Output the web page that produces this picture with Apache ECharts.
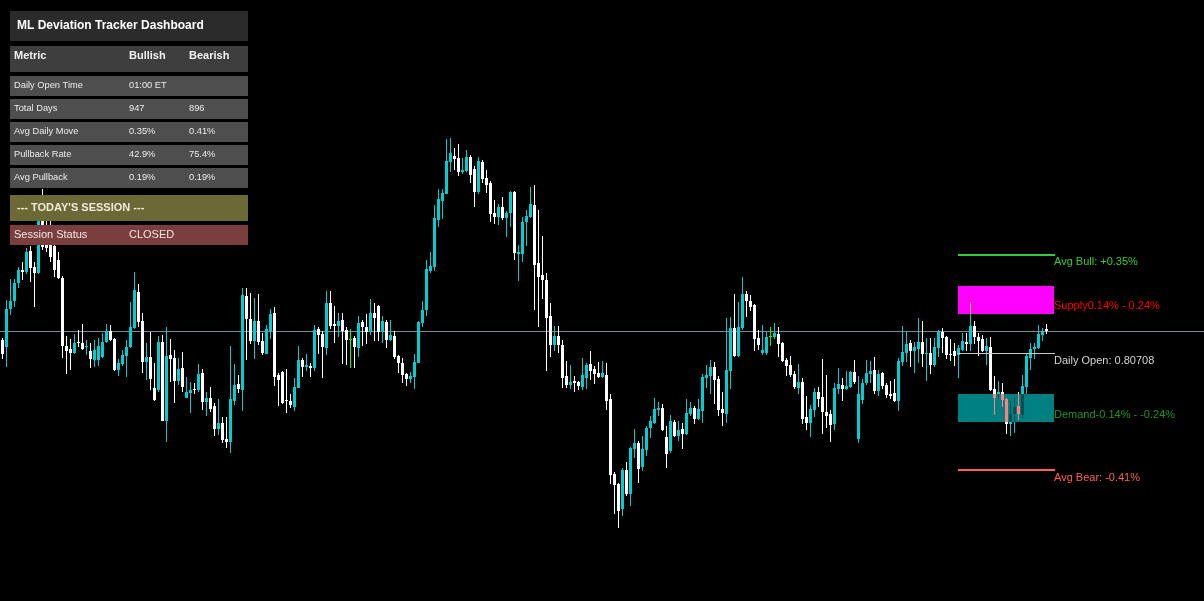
<!DOCTYPE html>
<html><head><meta charset="utf-8">
<script src="https://cdn.jsdelivr.net/npm/echarts@6/dist/echarts.min.js"></script>
<style>html,body{margin:0;padding:0;background:#000;}#c{width:1204px;height:601px;}</style>
</head><body><div id="c"></div>
<script>
// ---- candle values (price) ----
const opens = [
0.80748,0.80728,0.80836,0.80859,0.80910,0.80948,0.80942,0.81002,0.80956,0.80939,
0.81148,0.81067,0.81048,0.81016,0.80976,0.80925,0.80731,0.80722,0.80710,0.80742,
0.80739,0.80728,0.80716,0.80690,0.80690,0.80699,0.80742,0.80773,0.80750,0.80662,
0.80679,0.80702,0.80728,0.80782,0.80884,0.80802,0.80684,0.80699,0.80610,0.80605,
0.80742,0.80516,0.80705,0.80696,0.80630,0.80667,0.80582,0.80596,0.80607,0.80605,
0.80653,0.80570,0.80582,0.80559,0.80493,0.80510,0.80465,0.80456,0.80573,0.80622,
0.80605,0.80873,0.80808,0.80745,0.80802,0.80745,0.80708,0.80773,0.80824,0.80648,
0.80656,0.80576,0.80573,0.80556,0.80610,0.80690,0.80670,0.80673,0.80667,0.80779,
0.80765,0.80725,0.80853,0.80794,0.80788,0.80805,0.80776,0.80750,0.80753,0.80725,
0.80799,0.80785,0.80770,0.80824,0.80845,0.80770,0.80799,0.80748,0.80759,0.80702,
0.80681,0.80651,0.80636,0.80642,0.80681,0.80796,0.80833,0.80945,0.80956,0.81090,
0.81145,0.81165,0.81256,0.81273,0.81267,0.81227,0.81230,0.81270,0.81236,0.81170,
0.81256,0.81210,0.81196,0.81110,0.81099,0.81128,0.81096,0.81110,0.81170,0.80993,
0.80993,0.81085,0.81099,0.81134,0.80967,0.80934,0.80919,0.80816,0.80733,0.80759,
0.80733,0.80645,0.80619,0.80630,0.80627,0.80613,0.80639,0.80679,0.80664,0.80653,
0.80642,0.80648,0.80579,0.80365,0.80336,0.80265,0.80376,0.80308,0.80436,0.80453,
0.80385,0.80433,0.80496,0.80510,0.80548,0.80553,0.80470,0.80430,0.80513,0.80473,
0.80493,0.80479,0.80536,0.80553,0.80522,0.80545,0.80639,0.80645,0.80670,0.80636,
0.80550,0.80536,0.80659,0.80782,0.80702,0.80782,0.80879,0.80859,0.80848,0.80753,
0.80710,0.80710,0.80759,0.80756,0.80765,0.80739,0.80690,0.80676,0.80651,0.80610,
0.80627,0.80528,0.80510,0.80548,0.80599,0.80585,0.80542,0.80536,0.80508,0.80607,
0.80619,0.80607,0.80613,0.80656,0.80465,0.80576,0.80624,0.80651,0.80662,0.80602,
0.80653,0.80619,0.80594,0.80596,0.80573,0.80684,0.80710,0.80739,0.80716,0.80722,
0.80742,0.80708,0.80710,0.80676,0.80725,0.80770,0.80756,0.80708,0.80716,0.80705,
0.80719,0.80742,0.80736,0.80788,0.80756,0.80750,0.80716,0.80728,0.80607,0.80594,
0.80599,0.80579,0.80508,0.80536,0.80559,0.80533,0.80613,0.80696,0.80722,0.80725,
0.80762,0.80779];
const closes = [
0.80708,0.80836,0.80859,0.80910,0.80948,0.80942,0.80999,0.80953,0.80939,0.81105,
0.81013,0.81010,0.80985,0.80948,0.80925,0.80731,0.80716,0.80710,0.80739,0.80739,
0.80722,0.80731,0.80693,0.80719,0.80731,0.80742,0.80773,0.80748,0.80662,0.80681,
0.80705,0.80728,0.80785,0.80890,0.80799,0.80684,0.80699,0.80636,0.80576,0.80742,
0.80516,0.80702,0.80693,0.80630,0.80664,0.80613,0.80599,0.80605,0.80605,0.80651,
0.80570,0.80582,0.80550,0.80493,0.80510,0.80462,0.80456,0.80579,0.80619,0.80607,
0.80876,0.80808,0.80745,0.80802,0.80742,0.80710,0.80779,0.80822,0.80642,0.80633,
0.80567,0.80573,0.80562,0.80613,0.80690,0.80670,0.80676,0.80667,0.80776,0.80762,
0.80728,0.80853,0.80788,0.80788,0.80802,0.80773,0.80748,0.80750,0.80728,0.80796,
0.80785,0.80770,0.80824,0.80810,0.80770,0.80802,0.80748,0.80762,0.80699,0.80681,
0.80648,0.80636,0.80645,0.80684,0.80799,0.80833,0.80951,0.80959,0.81096,0.81150,
0.81167,0.81259,0.81281,0.81264,0.81227,0.81233,0.81270,0.81219,0.81170,0.81259,
0.81207,0.81190,0.81108,0.81099,0.81128,0.81096,0.81110,0.81170,0.80996,0.80999,
0.81085,0.81102,0.81137,0.80962,0.80928,0.80919,0.80810,0.80733,0.80759,0.80733,
0.80639,0.80619,0.80627,0.80624,0.80616,0.80648,0.80676,0.80659,0.80651,0.80642,
0.80653,0.80573,0.80362,0.80334,0.80259,0.80376,0.80308,0.80439,0.80453,0.80379,
0.80436,0.80496,0.80516,0.80550,0.80553,0.80490,0.80422,0.80516,0.80473,0.80490,
0.80479,0.80539,0.80553,0.80522,0.80550,0.80642,0.80648,0.80670,0.80633,0.80548,
0.80539,0.80662,0.80782,0.80702,0.80785,0.80879,0.80859,0.80842,0.80750,0.80733,
0.80719,0.80756,0.80759,0.80767,0.80736,0.80687,0.80673,0.80648,0.80613,0.80627,
0.80522,0.80510,0.80550,0.80599,0.80579,0.80542,0.80531,0.80505,0.80610,0.80622,
0.80607,0.80616,0.80656,0.80627,0.80594,0.80624,0.80653,0.80659,0.80602,0.80651,
0.80616,0.80591,0.80588,0.80573,0.80687,0.80713,0.80736,0.80716,0.80728,0.80742,
0.80708,0.80710,0.80676,0.80728,0.80773,0.80753,0.80705,0.80705,0.80702,0.80725,
0.80745,0.80736,0.80788,0.80756,0.80745,0.80716,0.80731,0.80605,0.80582,0.80599,
0.80576,0.80508,0.80536,0.80556,0.80536,0.80616,0.80702,0.80722,0.80728,0.80765,
0.80773,0.80773];
const lows = [
0.80693,0.80670,0.80819,0.80842,0.80896,0.80919,0.80937,0.80913,0.80842,0.80937,
0.81005,0.80999,0.80970,0.80928,0.80922,0.80696,0.80651,0.80662,0.80708,0.80728,
0.80719,0.80705,0.80667,0.80670,0.80673,0.80696,0.80739,0.80745,0.80659,0.80645,
0.80673,0.80642,0.80725,0.80779,0.80785,0.80653,0.80633,0.80605,0.80573,0.80599,
0.80516,0.80456,0.80627,0.80567,0.80619,0.80599,0.80582,0.80539,0.80594,0.80599,
0.80548,0.80531,0.80542,0.80473,0.80476,0.80453,0.80439,0.80425,0.80562,0.80596,
0.80545,0.80690,0.80736,0.80693,0.80733,0.80705,0.80708,0.80750,0.80616,0.80559,
0.80565,0.80539,0.80553,0.80545,0.80610,0.80642,0.80659,0.80642,0.80659,0.80708,
0.80639,0.80705,0.80779,0.80739,0.80756,0.80679,0.80676,0.80667,0.80667,0.80699,
0.80731,0.80736,0.80762,0.80745,0.80745,0.80739,0.80725,0.80745,0.80693,0.80653,
0.80624,0.80616,0.80624,0.80607,0.80681,0.80785,0.80816,0.80939,0.80945,0.81070,
0.81093,0.81165,0.81227,0.81233,0.81216,0.81222,0.81227,0.81196,0.81128,0.81165,
0.81196,0.81167,0.81085,0.81079,0.81076,0.81090,0.81042,0.81070,0.80976,0.80916,
0.80970,0.81016,0.81096,0.80833,0.80785,0.80865,0.80659,0.80699,0.80716,0.80710,
0.80610,0.80610,0.80607,0.80599,0.80605,0.80605,0.80607,0.80633,0.80622,0.80639,
0.80639,0.80548,0.80336,0.80251,0.80211,0.80245,0.80302,0.80273,0.80410,0.80339,
0.80373,0.80416,0.80467,0.80508,0.80531,0.80487,0.80382,0.80425,0.80470,0.80459,
0.80436,0.80476,0.80531,0.80508,0.80519,0.80510,0.80610,0.80594,0.80565,0.80531,
0.80502,0.80510,0.80607,0.80699,0.80699,0.80776,0.80813,0.80830,0.80716,0.80719,
0.80705,0.80705,0.80731,0.80750,0.80699,0.80684,0.80645,0.80642,0.80607,0.80594,
0.80508,0.80490,0.80470,0.80528,0.80556,0.80479,0.80496,0.80456,0.80490,0.80594,
0.80573,0.80605,0.80610,0.80622,0.80453,0.80565,0.80619,0.80624,0.80594,0.80588,
0.80607,0.80582,0.80579,0.80570,0.80545,0.80673,0.80684,0.80670,0.80653,0.80681,
0.80670,0.80630,0.80651,0.80670,0.80699,0.80710,0.80693,0.80687,0.80673,0.80639,
0.80716,0.80716,0.80716,0.80736,0.80702,0.80713,0.80676,0.80602,0.80533,0.80579,
0.80556,0.80479,0.80473,0.80482,0.80519,0.80522,0.80591,0.80662,0.80693,0.80722,
0.80745,0.80765];
const highs = [
0.80753,0.80862,0.80922,0.80922,0.80956,0.80970,0.81010,0.81016,0.80970,0.81134,
0.81179,0.81096,0.81090,0.81033,0.80999,0.80931,0.80759,0.80750,0.80765,0.80776,
0.80794,0.80748,0.80739,0.80748,0.80753,0.80767,0.80794,0.80791,0.80753,0.80693,
0.80719,0.80748,0.80856,0.80942,0.80908,0.80824,0.80739,0.80770,0.80681,0.80759,
0.80762,0.80785,0.80750,0.80719,0.80696,0.80713,0.80642,0.80627,0.80624,0.80679,
0.80664,0.80599,0.80613,0.80567,0.80579,0.80528,0.80528,0.80731,0.80679,0.80648,
0.80896,0.80896,0.80881,0.80867,0.80879,0.80767,0.80791,0.80836,0.80842,0.80653,
0.80659,0.80664,0.80594,0.80639,0.80731,0.80696,0.80708,0.80681,0.80791,0.80785,
0.80773,0.80887,0.80887,0.80845,0.80824,0.80824,0.80785,0.80779,0.80759,0.80816,
0.80805,0.80822,0.80865,0.80853,0.80848,0.80816,0.80805,0.80805,0.80773,0.80705,
0.80696,0.80653,0.80656,0.80708,0.80802,0.80859,0.80976,0.80999,0.81134,0.81179,
0.81179,0.81322,0.81325,0.81296,0.81307,0.81267,0.81290,0.81276,0.81245,0.81270,
0.81262,0.81233,0.81202,0.81148,0.81137,0.81156,0.81116,0.81173,0.81173,0.81019,
0.81099,0.81119,0.81185,0.81190,0.81119,0.81045,0.80939,0.80853,0.80788,0.80788,
0.80748,0.80687,0.80676,0.80645,0.80630,0.80696,0.80681,0.80716,0.80673,0.80684,
0.80687,0.80681,0.80594,0.80371,0.80339,0.80382,0.80399,0.80442,0.80493,0.80459,
0.80473,0.80502,0.80531,0.80582,0.80570,0.80565,0.80502,0.80533,0.80519,0.80516,
0.80510,0.80579,0.80570,0.80559,0.80579,0.80651,0.80676,0.80690,0.80684,0.80645,
0.80599,0.80811,0.80813,0.80879,0.80856,0.80928,0.80887,0.80876,0.80851,0.80776,
0.80791,0.80770,0.80785,0.80796,0.80785,0.80742,0.80696,0.80702,0.80659,0.80679,
0.80639,0.80588,0.80562,0.80610,0.80613,0.80693,0.80648,0.80548,0.80624,0.80667,
0.80639,0.80659,0.80659,0.80690,0.80645,0.80636,0.80690,0.80687,0.80699,0.80662,
0.80656,0.80624,0.80630,0.80636,0.80696,0.80788,0.80773,0.80748,0.80742,0.80811,
0.80802,0.80753,0.80753,0.80753,0.80776,0.80782,0.80759,0.80750,0.80739,0.80733,
0.80767,0.80767,0.80856,0.80802,0.80767,0.80762,0.80753,0.80756,0.80645,0.80630,
0.80624,0.80582,0.80573,0.80585,0.80599,0.80648,0.80708,0.80739,0.80739,0.80791,
0.80782,0.80794];

// ---- session levels ----
const dailyOpen = 0.80708;
const avgBullPct = 0.35;
const avgBearPct = -0.41;
const supplyPct = [0.14, 0.24];
const demandPct = [-0.14, -0.24];
const sessionStartBar = 239;
const levelEndBar = 263;
const slotCount = 301;

// ---- dashboard ----
const dashTitle = 'ML Deviation Tracker Dashboard';
const dashHeader = ['Metric', 'Bullish', 'Bearish'];
const metricNames = ['Daily Open Time', 'Total Days', 'Avg Daily Move', 'Pullback Rate', 'Avg Pullback'];
const bullishVals = ['01:00 ET', '947', '0.35%', '42.9%', '0.19%'];
const bearishVals = ['', '896', '0.41%', '75.4%', '0.19%'];
const sessionTitle = "--- TODAY'S SESSION ---";
const sessionStatus = ['Session Status', 'CLOSED'];

const categories = [];
for (let i = 0; i < slotCount; i++) categories.push('B' + (i + 1));
const candleData = opens.map((o, i) => [i, o, closes[i], lows[i], highs[i]]);
const lastClose = closes[closes.length - 1];

const pct = p => dailyOpen * (1 + p / 100);
const bullLevel = pct(avgBullPct), bearLevel = pct(avgBearPct);
const zoneData = [
  [sessionStartBar, levelEndBar, pct(supplyPct[0]), pct(supplyPct[1])],
  [sessionStartBar, levelEndBar, pct(demandPct[1]), pct(demandPct[0])]
];
const zoneColors = ['#FF00FF', '#008080'];
const BULL = '#00CED1', BEAR = '#FFFFFF', DOJI = '#00FF00';

const lineData = [
  [sessionStartBar, levelEndBar, bullLevel],
  [sessionStartBar, levelEndBar, dailyOpen],
  [sessionStartBar, levelEndBar, bearLevel]
];
const lineStyles = [
  {stroke: '#32CD32', w: 2},
  {stroke: '#C8C8C8', w: 1},
  {stroke: '#FF6347', w: 2}
];
const fmt = v => (v > 0 ? '+' : '') + v.toFixed(2) + '%';
const labelTexts = [
  'Avg Bull: ' + fmt(avgBullPct),
  'Supply' + supplyPct[0].toFixed(2) + '% - ' + supplyPct[1].toFixed(2) + '%',
  'Daily Open: ' + dailyOpen.toFixed(5),
  'Demand' + demandPct[0].toFixed(2) + '% - ' + demandPct[1].toFixed(2) + '%',
  'Avg Bear: ' + fmt(avgBearPct)
];
const labelData = [
  [levelEndBar, bullLevel],
  [levelEndBar, pct(supplyPct[0])],
  [levelEndBar, dailyOpen],
  [levelEndBar, pct(demandPct[1])],
  [levelEndBar, bearLevel]
];
const labelStyles = [
  {fill: '#32CD32', dy: 7},
  {fill: '#FF0000', dy: -8},
  {fill: '#D3D3D3', dy: 7},
  {fill: '#1E961E', dy: -7},
  {fill: '#FF6347', dy: 8}
];

const yMax = 0.817194;
const yMin = yMax - 601 / 35000;
const font11 = "11px Arial, 'Liberation Sans', sans-serif";

function hexRgb(h) { const n = parseInt(h.slice(1), 16); return [(n >> 16) & 255, (n >> 8) & 255, n & 255]; }
function diffColor(a, b) {
  const x = hexRgb(a), y = hexRgb(b);
  return 'rgb(' + Math.abs(x[0] - y[0]) + ',' + Math.abs(x[1] - y[1]) + ',' + Math.abs(x[2] - y[2]) + ')';
}
function zonePixels(api) {
  return zoneData.map((z, k) => {
    const a = api.coord([z[0], z[3]]), b = api.coord([z[1], z[2]]);
    return {t: Math.round(a[1]), b: Math.round(b[1]), color: zoneColors[k]};
  });
}
// split a vertical run into pieces outside/inside zones (zones act like an inverting overlay)
function pushPieces(out, x, w, y0, y1, color, zones) {
  let segs = [[y0, y1, color]];
  zones.forEach(z => {
    const next = [];
    segs.forEach(s => {
      if (s[2] !== color) { next.push(s); return; }
      const a = Math.max(s[0], z.t), b = Math.min(s[1], z.b);
      if (a >= b) { next.push(s); return; }
      if (s[0] < a) next.push([s[0], a, color]);
      next.push([a, b, diffColor(color, z.color)]);
      if (b < s[1]) next.push([b, s[1], color]);
    });
    segs = next;
  });
  segs.forEach(s => out.push({type: 'rect', shape: {x, y: s[0], width: w, height: s[1] - s[0]}, style: {fill: s[2]}}));
}

// dashboard graphic
const tf = "Arial, 'Liberation Sans', sans-serif";
const g = [];
function box(x, y, w, h, fill) { g.push({type: 'rect', z: 100, silent: true, shape: {x, y, width: w, height: h}, style: {fill}}); }
function txt(x, y, text, font, fill) { g.push({type: 'text', z: 101, silent: true, x, y, style: {text, font, fill, align: 'left', verticalAlign: 'middle'}}); }
box(10, 11, 238, 30, '#2b2b2b');
txt(17, 25.5, dashTitle, 'bold 12px ' + tf, '#ffffff');
box(10, 46, 238, 26, '#3e3e3e');
[14, 129, 189].forEach((x, k) => txt(x, 56, dashHeader[k], 'bold 11px ' + tf, '#f2f2f2'));
metricNames.forEach((m, r) => {
  const top = 76 + r * 23;
  box(10, top, 238, 20, '#4e4e4e');
  txt(14, top + 9, m, '9.3px ' + tf, '#ececec');
  txt(129, top + 9, bullishVals[r], '9.3px ' + tf, '#ececec');
  txt(189, top + 9, bearishVals[r], '9.3px ' + tf, '#ececec');
});
box(10, 195, 238, 26, '#6b6a36');
txt(17, 208, sessionTitle, 'bold 11px ' + tf, '#ecead8');
box(10, 225, 238, 20, '#7a3e3e');
txt(14, 235, sessionStatus[0], '11px ' + tf, '#f2e6e6');
txt(129, 235, sessionStatus[1], '11px ' + tf, '#f2e6e6');

const chart = echarts.init(document.getElementById('c'), null, {renderer: 'canvas'});
chart.setOption({
  backgroundColor: '#000000',
  animation: false,
  grid: {left: 0.5, top: 0, width: 1204, height: 601},
  xAxis: {type: 'category', data: categories, boundaryGap: true, show: false},
  yAxis: {type: 'value', min: yMin, max: yMax, show: false, splitLine: {show: false}},
  graphic: g,
  series: [
    {
      type: 'custom', z: 1, silent: true, clip: false,
      data: [[0, lastClose]],
      renderItem: (params, api) => {
        const p = api.coord([api.value(0), api.value(1)]);
        const y = Math.floor(p[1]) + 0.5;
        return {type: 'line', shape: {x1: 0, y1: y, x2: 1204, y2: y}, style: {stroke: '#778899', lineWidth: 1}};
      }
    },
    {
      type: 'custom', z: 2, silent: true, clip: false,
      data: zoneData,
      renderItem: (params, api) => {
        const a = api.coord([api.value(0), api.value(3)]);
        const b = api.coord([api.value(1), api.value(2)]);
        const x0 = Math.floor(a[0]), x1 = Math.floor(b[0]);
        const y0 = Math.round(a[1]), y1 = Math.round(b[1]);
        return {type: 'rect', shape: {x: x0, y: y0, width: x1 - x0, height: y1 - y0},
          style: {fill: zoneColors[params.dataIndex]}};
      }
    },
    {
      type: 'custom', z: 3, silent: true, clip: false,
      data: candleData,
      encode: {x: 0, y: [1, 2, 3, 4]},
      renderItem: (params, api) => {
        const i = api.value(0), o = api.value(1), c = api.value(2), l = api.value(3), h = api.value(4);
        const pO = api.coord([i, o]), pC = api.coord([i, c]), pL = api.coord([i, l]), pH = api.coord([i, h]);
        const cx = Math.floor(pO[0]);
        const color = c > o ? BULL : (c < o ? BEAR : DOJI);
        const zones = i >= sessionStartBar ? zonePixels(api) : [];
        const bTop = Math.round(Math.min(pO[1], pC[1]));
        const bBot = Math.max(bTop + 1, Math.round(Math.max(pO[1], pC[1])));
        const wTop = Math.round(pH[1]);
        const wBot = Math.max(wTop + 1, Math.round(pL[1]));
        const children = [];
        pushPieces(children, cx, 1, wTop, wBot, color, zones);
        pushPieces(children, cx - 1, 3, bTop, bBot, color, zones);
        return {type: 'group', children};
      }
    },
    {
      type: 'custom', z: 4, silent: true, clip: false,
      data: lineData,
      renderItem: (params, api) => {
        const a = api.coord([api.value(0), api.value(2)]);
        const b = api.coord([api.value(1), api.value(2)]);
        const s = lineStyles[params.dataIndex];
        const y = s.w === 1 ? Math.floor(a[1]) + 0.5 : Math.round(a[1]);
        return {type: 'line', shape: {x1: Math.floor(a[0]), y1: y, x2: Math.floor(b[0]) + 1, y2: y},
          style: {stroke: s.stroke, lineWidth: s.w}};
      }
    },
    {
      type: 'custom', z: 5, silent: true, clip: false,
      data: labelData,
      renderItem: (params, api) => {
        const p = api.coord([api.value(0), api.value(1)]);
        const s = labelStyles[params.dataIndex];
        return {type: 'text', x: Math.floor(p[0]), y: Math.round(p[1]) + s.dy,
          style: {text: labelTexts[params.dataIndex], font: font11, fill: s.fill, align: 'left', verticalAlign: 'middle'}};
      }
    }
  ]
});
</script>
</body></html>
